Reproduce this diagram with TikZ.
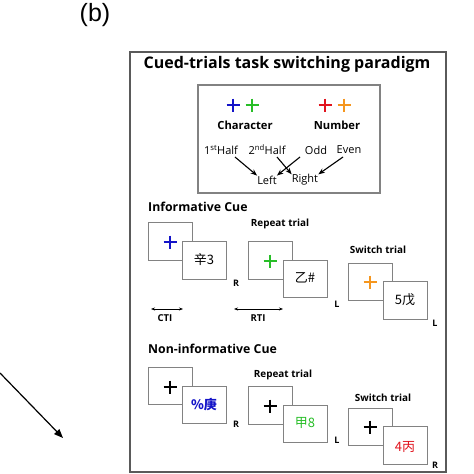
\documentclass[tikz,border=0pt]{standalone}
\usepackage{fontspec}
\setmainfont{Open Sans}
\newfontfamily\cjkf{Noto Sans CJK SC}
\newfontfamily\arialf{Liberation Sans}
\usetikzlibrary{arrows.meta}
\definecolor{cblue}{RGB}{20,20,200}
\definecolor{cgreen}{RGB}{40,190,40}
\definecolor{cred}{RGB}{225,20,30}
\definecolor{corange}{RGB}{245,150,30}
\definecolor{framegray}{RGB}{90,90,90}
\definecolor{boxgray}{RGB}{130,130,130}
\newcommand{\mycross}[3]{%
  \draw[#3,line width=2.4pt] (#1-6.5,#2) -- (#1+6.5,#2) (#1,#2-6.5) -- (#1,#2+6.5);}
\tikzset{
  scr/.style={draw=boxgray,line width=1pt,fill=white,minimum width=44pt,minimum height=37.5pt,inner sep=0pt},
  lab/.style={font=\bfseries\fontsize{11.2}{12}\selectfont,inner sep=0pt},
  rl/.style={font=\bfseries\fontsize{9}{10}\selectfont,inner sep=0pt},
  small/.style={font=\bfseries\fontsize{9.5}{10}\selectfont,inner sep=0pt},
  trial/.style={font=\bfseries\fontsize{9.9}{10}\selectfont,inner sep=0pt},
  sect/.style={font=\bfseries\fontsize{12.3}{13}\selectfont,inner sep=0pt,anchor=west},
  rule/.style={font=\fontsize{11}{12}\selectfont,inner sep=0pt},
  stim/.style={font=\cjkf\fontsize{13}{14}\selectfont,inner sep=0pt},
  map/.style={-{Stealth[length=6.5pt,width=5pt]},line width=1.1pt},
  span/.style={{Stealth[length=4pt,width=3pt]}-{Stealth[length=4pt,width=3pt]},line width=0.8pt},
}
\begin{document}
\begin{tikzpicture}[x=1pt,y=-1pt]
\useasboundingbox (0,0) rectangle (474,474);
% (b) label and arrow
\node[font=\arialf\fontsize{25}{26}\selectfont,inner sep=0pt] (blab) at (95,15) {(b)};
\coordinate (astart) at (0,373);
\coordinate (aend) at (63,438);
\draw[-{Triangle[length=9pt,width=7pt]},line width=1.2pt] (astart) -- (aend);
% outer frame
\draw[framegray,line width=1.3pt] (130,52) rectangle (446,472);
\node[font=\bfseries\fontsize{16}{17}\selectfont,inner sep=0pt] (title) at (287,64) {Cued-trials task switching paradigm};
% inner box
\draw[boxgray,line width=1.3pt] (198,85) rectangle (380,193);
\mycross{233}{105}{cblue}
\mycross{252}{105}{cgreen}
\mycross{325}{105}{cred}
\mycross{344}{105}{corange}
\node[lab] (char) at (245,125) {Character};
\node[lab] (num) at (337,125) {Number};
\node[rule] (h1) at (221,150) {1\textsuperscript{st}Half};
\node[rule] (h2) at (267,150) {2\textsuperscript{nd}Half};
\node[rule] (odd) at (316,150) {Odd};
\node[rule] (even) at (349,150) {Even};
\node[rule] (left) at (267,180) {Left};
\node[rule] (right) at (305,180) {Right};
\draw[map] (235,157) -- (left.north west);
\draw[map] (277,157) -- (right.north west);
\draw[map] (300,157) -- (left.north east);
\draw[map] (343,157) -- (right.north east);
% Informative cue
\node[sect] (info) at (148,207) {Informative Cue};
\node[scr] (i1) at (170,241.5) {};
\node[scr] (i2) at (204,260.5) {};
\mycross{170}{242}{cblue}
\node[stim] (is1) at (204,260) {辛3};
\node[rl] (ir1) at (236,283) {R};
\node[trial] (irep) at (280,224) {Repeat trial};
\node[scr] (i3) at (270,260.5) {};
\node[scr] (i4) at (305,279) {};
\mycross{270}{261}{cgreen}
\node[stim] (is2) at (305,278) {乙\#};
\node[rl] (ir2) at (337,304) {L};
\node[trial] (isw) at (378,250) {Switch trial};
\node[scr] (i5) at (370,282) {};
\node[scr] (i6) at (405,300.5) {};
\mycross{370}{282}{corange}
\node[stim] (is3) at (405,300) {5戊};
\node[rl] (ir3) at (435,323) {L};
\coordinate (cti1) at (151,309);
\coordinate (cti2) at (183,309);
\draw[span] (cti1) -- (cti2);
\node[small] (cti) at (165,318.5) {CTI};
\coordinate (rti1) at (234,309);
\coordinate (rti2) at (283,309);
\draw[span] (rti1) -- (rti2);
\node[small] (rti) at (258,318.5) {RTI};
% Non-informative cue
\node[sect] (ninfo) at (148,349) {Non-informative Cue};
\node[scr] (n1) at (170,386) {};
\node[scr] (n2) at (204,405) {};
\mycross{170}{387}{black}
\node[stim,text=cblue,font=\cjkf\bfseries\fontsize{13}{14}\selectfont] (ns1) at (204,405) {\%庚};
\node[rl] (nr1) at (236,424) {R};
\node[trial] (nrep) at (283,375) {Repeat trial};
\node[scr] (n3) at (270,405.5) {};
\node[scr] (n4) at (305,424) {};
\mycross{270}{406}{black}
\node[stim,text=cgreen] (ns2) at (305,423) {甲8};
\node[rl] (nr2) at (337,440) {L};
\node[trial] (nsw) at (383,398) {Switch trial};
\node[scr] (n5) at (370,427) {};
\node[scr] (n6) at (405,445.5) {};
\mycross{370}{427}{black}
\node[stim,text=cred] (ns3) at (405,447) {4丙};
\node[rl] (nr3) at (435,465) {R};
\end{tikzpicture}
\end{document}
